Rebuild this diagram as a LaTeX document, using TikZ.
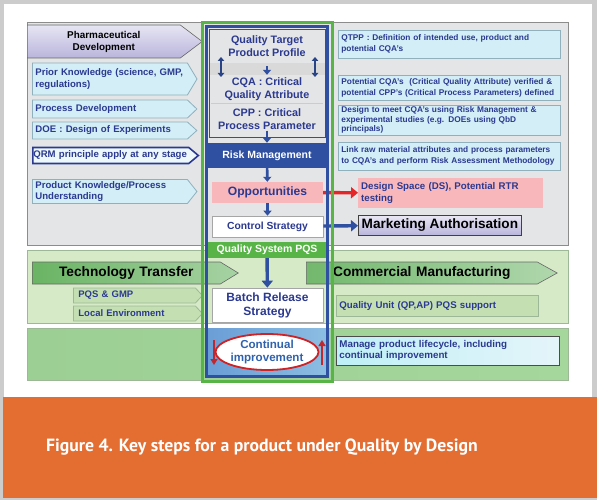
\documentclass[tikz,border=0pt]{standalone}
\usepackage{fontspec}
\setmainfont{Liberation Sans}
\newfontfamily\capfont{PT Sans}
\usetikzlibrary{shapes.symbols,shapes.geometric,positioning,arrows.meta}

\definecolor{navy}{HTML}{2B3990}
\definecolor{qblue}{HTML}{2F4FA0}
\definecolor{qgreen}{HTML}{58B447}
\definecolor{panelgrey}{HTML}{E4E5E6}
\definecolor{framegrey}{HTML}{8C8C8C}
\definecolor{cyanbox}{HTML}{D3EEF6}
\definecolor{cyanline}{HTML}{8FB0BC}
\definecolor{lav}{HTML}{B9B5DC}
\definecolor{pinkbox}{HTML}{F8B8BB}
\definecolor{redarrow}{HTML}{E52629}
\definecolor{bandgreen}{HTML}{D7EAC8}
\definecolor{chevgreen}{HTML}{C4E0B2}
\definecolor{chevline}{HTML}{9DB897}
\definecolor{tgreen}{HTML}{4FA648}
\definecolor{capor}{HTML}{E46D31}
\definecolor{ciblue}{HTML}{2F62AE}
\definecolor{cibackl}{HTML}{6A9ED6}
\definecolor{cibackr}{HTML}{8CBDE2}
\definecolor{cired}{HTML}{C0282F}
\definecolor{lowgreen}{HTML}{9CCF93}
\definecolor{lowteal}{HTML}{8FD3C8}
\definecolor{lowright}{HTML}{A5D69C}

\newcommand\fsz[2]{\fontsize{#1}{#2}\selectfont}

\begin{document}
\begin{tikzpicture}[x=1pt,y=-1pt,
    leftchev/.style={signal,signal to=east,draw=cyanline,fill=cyanbox,line width=0.8pt,anchor=west,text width=149pt,align=left,inner xsep=3pt,inner ysep=0pt,font=\bfseries\fsz{9.6}{11.5},text=navy},
    rightbox/.style={rectangle,draw=cyanline,fill=cyanbox,line width=0.8pt,anchor=west,text width=216pt,align=left,inner xsep=3pt,inner ysep=0pt,font=\bfseries\fsz{8.3}{10.8},text=navy},
    greenchev/.style={signal,signal to=east,draw=chevline,fill=chevgreen,line width=0.8pt,anchor=west,inner xsep=5pt,inner ysep=0pt,align=left,font=\bfseries\fsz{9.5}{10},text=navy},
    bigchev/.style={signal,signal to=east,draw=black!60,line width=0.6pt,anchor=west,inner xsep=3pt,inner ysep=0pt,align=center,font=\bfseries\fsz{13.7}{15},text=black},
    cbox/.style={rectangle,minimum width=111pt,inner sep=0pt,align=center,font=\bfseries\fsz{10.8}{12.5},text=navy},
    band/.style={rectangle,minimum width=118pt,inner sep=0pt,align=center,font=\bfseries\fsz{10.5}{12},text=white},
    flow/.style={qblue,line width=2.6pt,-{Triangle[width=8pt,length=5pt]}},
    bigflow/.style={line width=3.4pt,-{Triangle[width=11pt,length=7pt]}},
    updown/.style={qblue!85!black,line width=2.6pt,{Triangle[width=6.5pt,length=4pt]}-{Triangle[width=6.5pt,length=4pt]}}
]
    \useasboundingbox (0,0) rectangle (597,500);
    % page and caption
    \fill[black!20] (0,0) rectangle (597,500);
    \fill[white] (4,4) rectangle (592,397);
    \fill[capor] (3,397) rectangle (597,498);
    \node[text=white,font=\capfont\bfseries\fsz{17.7}{20}] (caption) at (262,447) {Figure 4. Key steps for a product under Quality by Design};

    % panels
    \draw[framegrey,fill=panelgrey,line width=0.9pt] (27,22) rectangle (568,245);
    \draw[chevline,fill=bandgreen,line width=0.9pt] (27,250) rectangle (568,323);
    \draw[chevline,left color=lowgreen,middle color=lowteal,right color=lowright,line width=0.9pt] (27,328) rectangle (568,380);
    \fill[left color=cibackl,right color=cibackr] (208,328) rectangle (326,375);

    % left column
    \node[bigchev,top color=lav!35,bottom color=lav,signal pointer angle=74,text width=147pt,minimum height=33pt,font=\bfseries\fsz{9.9}{12}] (pharm) at (27,41.5) {Pharmaceutical\\Development};
    \node[leftchev,signal pointer angle=118,minimum height=32pt] (prior) at (32,79) {Prior Knowledge (science, GMP,\\regulations)};
    \node[leftchev,signal pointer angle=87,minimum height=18pt] (procdev) at (32,109) {Process Development};
    \node[leftchev,signal pointer angle=84,minimum height=17pt] (doe) at (32,130.5) {DOE : Design of Experiments};
    \node[leftchev,signal pointer angle=80,minimum height=16pt,fill=cyanbox!40,draw=navy,line width=1.6pt,inner xsep=0.5pt,text width=155pt] (qrm) at (32,155.5) {QRM principle apply at any stage};
    \node[leftchev,signal pointer angle=103,minimum height=24pt] (prodknow) at (32,191.5) {Product Knowledge/Process\\Understanding};

    % right column
    \node[rightbox,minimum height=28pt] (qtppdesc) at (338,44) {QTPP : Definition of intended use, product and\\potential CQA's};
    \node[rightbox,minimum height=25pt] (cqadesc) at (338,87.5) {Potential CQA's\ \ (Critical Quality Attribute) verified \&\\potential CPP's (Critical Process Parameters) defined};
    \node[rightbox,minimum height=30pt,font=\bfseries\fsz{8.3}{9.8}] (designdesc) at (338,120) {Design to meet CQA's using Risk Management \&\\experimental studies (e.g. DOEs using QbD\\principals)};
    \node[rightbox,minimum height=28pt] (linkdesc) at (338,156) {Link raw material attributes and process parameters\\to CQA's and perform Risk Assessment Methodology};
    \node[rectangle,fill=pinkbox,anchor=west,text width=179pt,minimum height=30pt,inner xsep=3pt,inner ysep=0pt,align=left,font=\bfseries\fsz{9.7}{11.5},text=navy] (ds) at (358,193) {Design Space (DS), Potential RTR\\testing};
    \node[rectangle,draw=black!75,line width=0.8pt,top color=lav!30,bottom color=lav,anchor=west,minimum width=163pt,minimum height=20pt,inner sep=0pt,font=\bfseries\fsz{13.6}{15}] (market) at (358,225) {Marketing Authorisation};

    % centre column
    \fill[black!15] (209,63) rectangle (325,75);
    \node[cbox,minimum height=34pt] (qtpp) at (267,46) {Quality Target\\Product Profile};
    \node[cbox,minimum height=28pt] (cqa) at (267,89) {CQA : Critical\\Quality Attribute};
    \node[cbox,minimum height=31pt] (cpp) at (267,119) {CPP : Critical\\Process Parameter};
    \draw[black!20,line width=0.6pt] (cqa.south west) -- (cqa.south east);
    \draw[qblue,line width=0.9pt] (209,29) rectangle (325,137);
    \node[band,fill=qblue,minimum height=25pt] (risk) at (267,155.5) {Risk Management};
    \node[cbox,fill=pinkbox,minimum height=21pt,font=\bfseries\fsz{12.1}{13}] (opp) at (267.5,192.5) {Opportunities};
    \node[cbox,fill=white,draw=black!35,line width=0.6pt,minimum height=21pt,font=\bfseries\fsz{10.3}{11}] (ctrl) at (267.5,226.5) {Control Strategy};
    \node[band,fill=qgreen,minimum height=16pt] (pqs) at (267,250) {Quality System PQS};
    \node[cbox,fill=white,draw=black!35,line width=0.6pt,minimum height=34pt,font=\bfseries\fsz{12}{14}] (batch) at (267.5,305) {Batch Release\\Strategy};
    \node[ellipse,draw=redarrow!90!black,fill=white,line width=1.8pt,minimum width=94pt,minimum height=36pt,inner sep=0pt,align=center,font=\bfseries\fsz{11.6}{13.5},text=ciblue] (cont) at (267,352) {Continual\\improvement};

    % middle band
    \node[bigchev,left color=tgreen!85,middle color=tgreen!12,right color=tgreen!50,signal pointer angle=63,text width=182pt,minimum height=22pt] (tech) at (32,273) {Technology Transfer};
    \node[bigchev,left color=tgreen!80,middle color=tgreen!10,right color=tgreen!45,signal pointer angle=58,text width=225pt,minimum height=22pt] (comm) at (306,273) {Commercial Manufacturing};
    \node[greenchev,signal pointer angle=94,text width=112pt,minimum height=15pt] (pqsgmp) at (73,295.5) {PQS \& GMP};
    \node[greenchev,signal pointer angle=94,text width=112pt,minimum height=15pt] (localenv) at (73,313.5) {Local Environment};
    \node[rectangle,draw=chevline,fill=chevgreen,line width=0.8pt,anchor=west,text width=196pt,minimum height=21pt,inner xsep=3pt,inner ysep=0pt,align=left,font=\bfseries\fsz{9.7}{10},text=navy] (qunit) at (336,305.5) {Quality Unit (QP,AP) PQS support};
    \node[rectangle,draw=black!70,line width=0.8pt,left color=cyanbox!90!cyan,right color=cyanbox!60,anchor=west,text width=217pt,minimum height=29pt,inner xsep=3pt,inner ysep=0pt,align=left,font=\bfseries\fsz{9.8}{11.5},text=navy] (manage) at (336,350.5) {Manage product lifecycle, including\\continual improvement};

    % connectors
    \draw[flow,shorten <=3pt] (qtpp) -- (cqa);
    \draw[flow,shorten <=-4pt] (cpp) -- (risk);
    \draw[flow] (risk) -- (opp);
    \draw[flow] (opp) -- (ctrl);
    \draw[bigflow,qblue] (pqs) -- (batch);
    \draw[bigflow,redarrow] (opp) -- (ds);
    \draw[bigflow,qblue] (ctrl) -- (market);

    % double arrows beside the profile
    \coordinate (udl) at (221,57);
    \coordinate (udr) at (315,57);
    \draw[updown] (udl) -- ++(0,20);
    \draw[updown] (udr) -- ++(0,20);
    % improvement arrows
    \coordinate (cil) at (214,340);
    \coordinate (cir) at (322,365);
    \draw[cired,line width=2.6pt,-{Triangle[width=7pt,length=6pt]}] (cil) -- ++(0,25);
    \draw[cired,line width=2.6pt,-{Triangle[width=7pt,length=6pt]}] (cir) -- ++(0,-25);

    % centre frames
    \draw[qgreen,line width=3pt] (202.5,22.5) rectangle (332.5,381);
    \draw[qblue,line width=3pt] (206.5,26.5) rectangle (327.5,376.5);
\end{tikzpicture}
\end{document}
